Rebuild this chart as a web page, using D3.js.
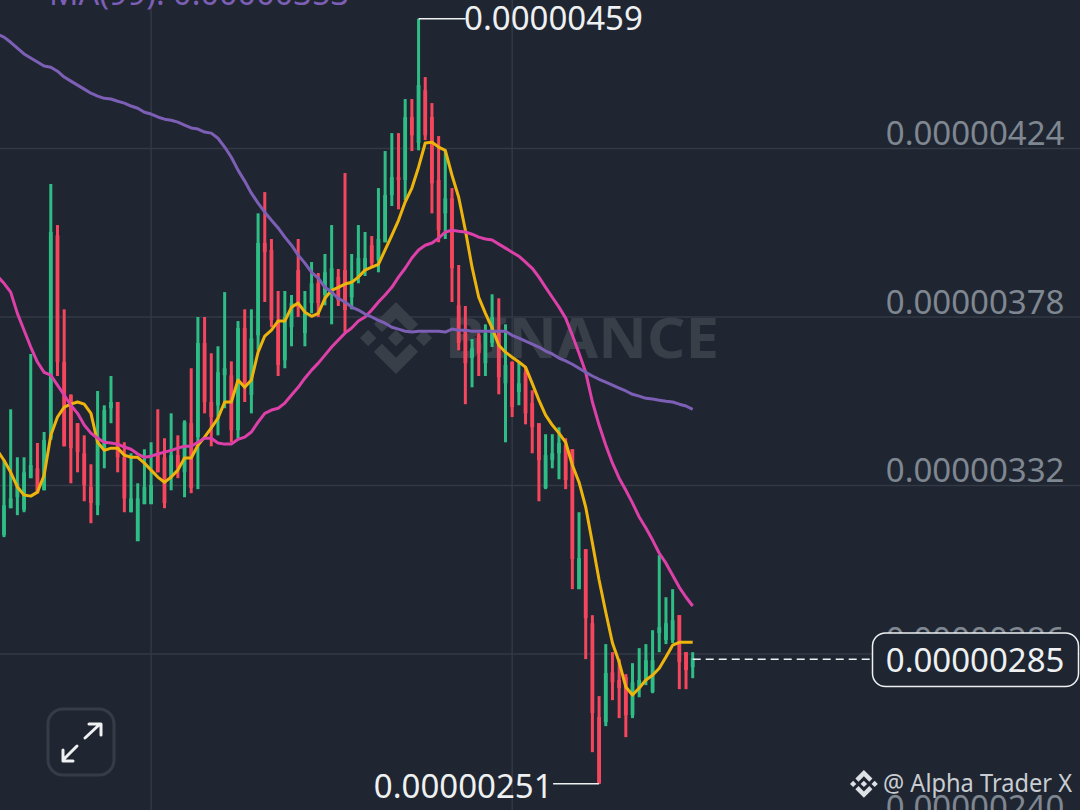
<!DOCTYPE html>
<html>
<head>
<meta charset="utf-8">
<script src="https://cdn.jsdelivr.net/npm/d3@7"></script>
<style>
html, body { margin: 0; padding: 0; background: #1f2631; overflow: hidden; }
text { font-family: "Noto Sans", sans-serif; }
</style>
</head>
<body>
<script>
// prices are in units of 0.00000001
const candleOpen = [
  318.4,325.8,328.8,325.3,334.0,336.7,330.7,344.9,400.3,365.7,
  356.7,349.0,340.8,331.6,326.6,342.2,353.1,354.8,339.7,324.7,
  316.8,326.9,326.9,340.8,339.7,334.3,340.3,335.6,349.0,345.2,
  370.9,354.8,353.9,362.1,362.1,347.1,375.0,356.7,373.0,398.2,
  396.3,377.1,366.2,375.2,390.8,373.6,381.8,387.2,384.0,384.5,
  388.9,390.8,383.4,388.9,390.8,397.6,393.5,398.4,411.3,416.2,
  415.4,432.6,425.5,439.9,432.6,415.4,406.3,410.4,381.2,374.4,
  366.8,373.0,365.4,370.9,373.6,359.9,365.7,357.5,362.9,354.5,
  349.0,331.3,338.9,340.8,343.0,341.9,303.7,314.6,294.4,268.8,
  267.4,281.0,278.9,279.7,269.3,276.7,278.9,275.6,291.7,289.8,
  289.8,296.6,286.5,282.4];
const candleClose = [
  326.6,328.5,332.6,335.6,337.6,329.9,344.4,401.2,365.7,342.7,
  342.2,341.1,332.1,327.2,345.2,352.6,354.8,339.7,328.5,328.5,
  328.5,331.6,332.1,335.6,327.2,340.3,336.7,349.3,331.3,370.9,
  354.8,350.7,362.9,364.0,347.1,375.0,359.4,372.2,398.2,395.7,
  377.1,364.9,378.0,381.8,380.7,379.0,387.2,381.8,390.2,391.3,
  382.6,379.9,387.2,394.1,394.1,392.7,399.3,411.3,416.2,415.4,
  432.6,427.6,441.3,427.6,414.5,401.7,410.4,391.3,370.9,365.4,
  369.5,368.1,373.6,378.0,361.6,364.9,353.4,359.9,351.7,347.9,
  338.9,340.3,340.8,343.6,333.5,311.9,312.2,295.8,269.9,250.6,
  280.8,278.3,276.7,269.3,278.3,278.9,284.3,284.3,293.3,294.4,
  295.2,283.8,281.6,284.9];
const candleHigh = [
  338.9,352.8,339.7,339.7,367.9,343.6,346.6,414.3,403.1,380.1,
  356.9,349.0,345.7,337.8,357.8,353.9,361.9,354.8,343.8,340.8,
  332.6,341.9,343.8,352.8,344.9,351.7,345.7,349.8,364.0,378.0,
  378.0,368.1,370.0,384.8,365.9,376.9,380.1,380.1,406.3,412.1,
  399.3,385.1,385.1,384.0,399.3,385.1,393.0,390.0,395.2,403.1,
  391.1,417.3,395.2,403.1,401.2,400.1,413.2,423.3,428.2,428.2,
  437.5,437.5,459.4,443.5,436.4,427.4,423.5,413.2,392.2,381.0,
  372.0,373.6,376.0,384.2,383.1,376.0,365.9,365.7,364.3,358.0,
  349.0,346.0,346.0,347.9,344.9,341.9,324.7,314.6,296.6,274.5,
  288.7,286.5,284.6,280.5,283.5,287.6,288.7,292.5,313.0,301.5,
  303.7,296.6,286.5,286.5];
const candleLow = [
  317.9,325.8,323.9,324.7,334.0,329.9,330.7,344.4,361.9,342.7,
  332.6,335.6,327.7,321.7,323.9,336.7,349.0,335.6,324.7,324.7,
  316.8,326.9,326.9,335.6,325.8,330.7,334.0,328.8,329.9,331.0,
  351.7,342.7,345.7,353.1,343.8,344.9,354.8,351.7,368.9,382.1,
  375.2,361.9,364.0,370.0,378.0,370.0,379.0,378.0,381.2,376.0,
  381.0,373.9,380.1,387.2,389.2,391.6,390.2,398.4,408.3,407.4,
  409.9,423.3,423.5,426.3,406.3,398.4,399.3,382.1,368.9,354.2,
  358.8,361.9,361.9,369.8,356.9,343.8,350.7,353.9,348.7,340.8,
  327.7,331.0,336.7,333.7,331.0,303.7,303.7,284.6,259.2,250.6,
  266.3,273.4,268.5,263.3,268.5,274.2,277.5,275.3,286.5,288.7,
  289.0,276.4,276.4,279.4];

// moving averages, first entry is the candle just off the left edge
const ma7 = [
  341.6,338.9,335.6,331.6,329.4,329.1,330.2,334.8,345.7,350.7,353.4,
  354.2,354.8,354.2,351.7,343.8,341.6,342.2,342.2,340.3,339.7,
  339.7,338.1,336.2,334.3,332.9,334.3,336.2,339.5,339.5,343.0,
  345.2,347.7,350.4,354.8,354.8,360.8,358.8,360.8,368.4,372.8,
  374.4,376.9,376.9,380.7,381.8,379.3,378.2,379.0,383.1,385.3,
  386.1,387.0,387.5,388.9,390.8,391.6,392.4,396.3,400.3,404.4,
  409.4,413.2,418.9,425.5,425.7,424.4,423.5,416.7,410.7,401.7,
  391.6,383.4,379.0,375.0,370.3,368.4,367.0,365.7,364.3,359.9,
  355.3,351.2,348.5,346.3,343.8,337.6,332.9,326.1,316.3,306.2,
  297.4,289.0,283.8,277.0,274.8,276.7,278.9,280.2,282.1,285.2,
  288.4,289.2,289.2,289.2];
const ma25 = [
  389.2,387.2,384.8,379.0,374.4,369.8,365.7,362.9,362.1,359.4,356.7,
  353.9,351.7,348.5,346.3,344.9,343.8,343.6,343.3,342.5,341.9,
  340.6,339.7,340.0,340.6,341.1,341.6,342.2,342.7,342.7,343.8,
  344.9,344.9,343.6,343.3,343.3,344.6,345.2,346.6,349.3,351.7,
  352.6,353.1,354.5,356.7,358.8,361.3,363.5,365.4,367.6,369.8,
  371.7,373.6,375.0,376.9,378.0,379.9,382.1,384.0,386.1,388.9,
  391.3,394.1,396.3,397.6,398.2,399.5,401.2,401.7,401.4,401.2,
  400.6,399.8,399.3,399.0,397.9,396.8,395.7,394.6,393.0,391.3,
  388.9,386.1,383.4,380.7,377.7,373.0,368.1,362.9,354.8,348.5,
  343.0,338.1,334.0,330.7,327.2,323.4,320.4,317.1,313.5,310.8,
  307.5,304.2,301.5,299.1];
const ma99 = [
  455.2,454.4,453.0,451.4,449.8,448.7,447.6,446.5,446.2,445.1,443.5,
  442.4,441.3,440.2,439.1,438.3,437.7,437.5,436.9,436.4,435.6,
  435.0,433.9,433.4,432.6,432.0,431.7,431.2,430.4,429.6,429.3,
  428.5,428.2,426.8,424.4,421.6,418.1,415.1,411.8,409.1,406.6,
  404.4,402.3,399.8,397.6,394.9,392.7,390.2,388.6,386.1,384.8,
  383.1,382.1,380.7,379.9,378.8,378.0,377.1,376.3,375.2,374.7,
  374.1,373.9,374.1,374.1,374.1,374.1,373.9,374.7,374.4,374.4,
  374.1,374.1,374.1,374.1,374.1,374.1,373.0,372.2,371.4,370.6,
  369.8,368.7,367.9,366.8,366.0,365.1,364.0,362.9,361.9,361.0,
  360.2,359.4,358.6,357.8,356.9,356.4,355.8,355.6,355.3,355.0,
  354.8,354.2,353.7,352.8];

const priceTicks = [424, 378, 332, 286, 240];
const timeGrid = [22, 76];
const highIndex = 62;
const lowIndex = 89;
const lastIndex = 103;
const lastPrice = 284.6;

const green = "#2ebd85", red = "#f6465d", bg = "#1f2631", gridColor = "#333a46";
const logoPaths = [
  "M38.73 53.2l24.59-24.58 24.6 24.6 14.3-14.31L63.32 0 24.43 38.9z",
  "M0 63.31l14.3-14.31 14.31 14.31-14.31 14.3z",
  "M38.73 73.41l24.59 24.59 24.6-24.6 14.31 14.29h-.01L63.32 126.61 24.43 87.72l-.02-.02z",
  "M98 63.31l14.3-14.31 14.31 14.3-14.31 14.32z",
  "M77.83 63.3L63.32 48.78 52.59 59.51l-1.24 1.23-2.54 2.54 14.51 14.5 14.51-14.47z"
];

const fmt = v => (v / 1e8).toFixed(8);

const svg = d3.select("body").append("svg")
  .attr("width", 1080)
  .attr("height", 810)
  .style("display", "block")
  .style("background", bg);

const x = d3.scaleLinear().domain([0, lastIndex]).range([4, 692.7]);
const y = d3.scaleLinear().domain([286, 424]).range([654, 148.5]);

// grid
svg.append("g").selectAll("line").data(priceTicks).join("line")
  .attr("x1", 0).attr("x2", 1080)
  .attr("y1", d => y(d)).attr("y2", d => y(d))
  .attr("stroke", gridColor).attr("stroke-width", 1.4);
svg.append("g").selectAll("line").data(timeGrid).join("line")
  .attr("x1", d => x(d)).attr("x2", d => x(d))
  .attr("y1", 0).attr("y2", 810)
  .attr("stroke", gridColor).attr("stroke-width", 1.4);

// watermark
const mark = svg.append("g").attr("fill", "#383f49");
mark.append("g").attr("transform", "translate(360,302) scale(0.5687)")
  .selectAll("path").data(logoPaths).join("path").attr("d", d => d);
mark.append("text").attr("x", 445).attr("y", 358)
  .attr("font-size", 56).attr("font-weight", 700)
  .attr("textLength", 274).attr("lengthAdjust", "spacingAndGlyphs")
  .text("BINANCE");

// candles
const idx = d3.range(candleOpen.length);
const colorOf = i => candleClose[i] >= candleOpen[i] ? green : red;
svg.append("g").selectAll("line").data(idx).join("line")
  .attr("x1", i => x(i)).attr("x2", i => x(i))
  .attr("y1", i => y(candleHigh[i])).attr("y2", i => y(candleLow[i]))
  .attr("stroke", colorOf).attr("stroke-width", 3);
svg.append("g").selectAll("rect").data(idx).join("rect")
  .attr("x", i => x(i) - 1.9).attr("width", 3.8)
  .attr("y", i => y(Math.max(candleOpen[i], candleClose[i])))
  .attr("height", i => Math.max(1, Math.abs(y(candleOpen[i]) - y(candleClose[i]))))
  .attr("fill", colorOf);

// moving averages
const maLine = d3.line().x((d, i) => x(i - 1)).y(d => y(d));
[[ma7, "#edb40e"], [ma25, "#dd40a8"], [ma99, "#7d5fb6"]].forEach(m => {
  svg.append("path").attr("d", maLine(m[0]))
    .attr("fill", "none").attr("stroke", m[1]).attr("stroke-width", 3)
    .attr("stroke-linejoin", "round");
});

// cut-off legend line at the very top
svg.append("text").attr("x", 49).attr("y", 5)
  .attr("font-size", 32.5).attr("fill", "#7d5fb6")
  .text("MA(99): " + fmt(ma99[ma99.length - 1]));

// price axis
const axis = d3.axisRight(y).tickValues(priceTicks).tickFormat(fmt).tickSize(0).tickPadding(0);
const axisG = svg.append("g").attr("transform", "translate(1064.5,0)").call(axis);
axisG.select(".domain").remove();
axisG.selectAll("text")
  .attr("text-anchor", "end")
  .attr("dy", "-4")
  .attr("font-size", 33)
  .attr("font-family", '"Noto Sans", sans-serif')
  .attr("fill", "#7f8791");

// high / low callouts
const white = "#eef0f2";
svg.append("line")
  .attr("x1", x(highIndex)).attr("x2", x(highIndex) + 47)
  .attr("y1", y(candleHigh[highIndex])).attr("y2", y(candleHigh[highIndex]))
  .attr("stroke", white).attr("stroke-width", 1.5);
svg.append("text").attr("x", x(highIndex) + 45.5).attr("y", y(candleHigh[highIndex]) + 11)
  .attr("font-size", 33).attr("fill", white)
  .text(fmt(candleHigh[highIndex]));
svg.append("line")
  .attr("x1", x(lowIndex) - 46).attr("x2", x(lowIndex))
  .attr("y1", y(candleLow[lowIndex])).attr("y2", y(candleLow[lowIndex]))
  .attr("stroke", white).attr("stroke-width", 1.5);
svg.append("text").attr("x", x(lowIndex) - 46.5).attr("y", y(candleLow[lowIndex]) + 14)
  .attr("text-anchor", "end")
  .attr("font-size", 33).attr("fill", white)
  .text(fmt(candleLow[lowIndex]));

// last price
svg.append("line")
  .attr("x1", x(lastIndex)).attr("x2", 872)
  .attr("y1", y(lastPrice)).attr("y2", y(lastPrice))
  .attr("stroke", white).attr("stroke-width", 1.5).attr("stroke-dasharray", "8,5");
svg.append("rect")
  .attr("x", 872.5).attr("y", 633).attr("width", 206).attr("height", 53.5).attr("rx", 13)
  .attr("fill", bg).attr("stroke", white).attr("stroke-width", 1.5);
svg.append("text").attr("x", 1064.5).attr("y", y(lastPrice) + 12.5)
  .attr("text-anchor", "end").attr("font-size", 33).attr("fill", white)
  .text(fmt(lastPrice));

// credit
const credit = svg.append("g");
credit.append("g").attr("transform", "translate(850,770) scale(0.2196)").attr("fill", "#dde0e4")
  .selectAll("path").data(logoPaths).join("path").attr("d", d => d);
credit.append("text").attr("x", 883).attr("y", 792)
  .attr("font-size", 25).attr("fill", "#c9cdd2")
  .attr("textLength", 189).attr("lengthAdjust", "spacingAndGlyphs")
  .text("@ Alpha Trader X");

// expand button
svg.append("rect")
  .attr("x", 48).attr("y", 709).attr("width", 66).attr("height", 66).attr("rx", 15)
  .attr("fill", "none").attr("stroke", "#353c48").attr("stroke-width", 3);
const arrows = svg.append("g").attr("fill", "none").attr("stroke", "#eef0f2")
  .attr("stroke-width", 3).attr("stroke-linecap", "round").attr("stroke-linejoin", "round");
arrows.append("path").attr("d", "M85 738L100 724M89 724H101V735");
arrows.append("path").attr("d", "M77 746L63 760M63 750V761H73");
</script>
</body>
</html>
